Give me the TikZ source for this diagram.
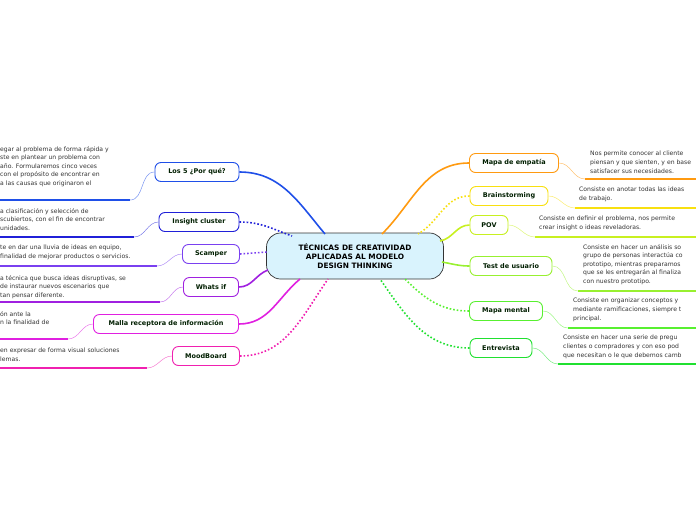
\documentclass[tikz,border=0pt]{standalone}
\usepackage{fontspec}
\setmainfont{DejaVu Sans}
\begin{document}
\begin{tikzpicture}[x=1pt,y=-1pt,
 lbl/.style={draw=#1,line width=0.9pt,rounded corners=6pt,fill=white,font=\fontsize{6.5}{7}\selectfont\bfseries,text=black!70!green!40!black,minimum height=19pt,inner sep=0pt},
 dsc/.style={font=\fontsize{6.1}{8.6}\selectfont,text=black!80,align=left,inner sep=0pt},
 ul/.style={draw=#1,line width=1.2pt},
 lk/.style={draw=#1!60,line width=0.5pt},
 cn/.style={draw=#1,line width=1.6pt},
 cnd/.style={draw=#1,line width=1.6pt,dotted}]
\useasboundingbox (0,0) rectangle (696,520);
\clip (0,0) rectangle (696,520);
\definecolor{c1}{HTML}{1F4FE8}\definecolor{c2}{HTML}{2020D8}\definecolor{c3}{HTML}{7A40F0}
\definecolor{c4}{HTML}{A020E0}\definecolor{c5}{HTML}{E020E0}\definecolor{c6}{HTML}{F020B0}
\definecolor{r1}{HTML}{FF9A10}\definecolor{r2}{HTML}{F8E010}\definecolor{r3}{HTML}{C8F020}
\definecolor{r4}{HTML}{98F030}\definecolor{r5}{HTML}{58F030}\definecolor{r6}{HTML}{20E030}
% center
\node[draw=black!80,line width=0.7pt,fill=cyan!15,rounded corners=14pt,minimum width=177pt,minimum height=46pt,align=center,font=\fontsize{7.4}{9}\selectfont\bfseries] (c) at (355,256) {TÉCNICAS DE CREATIVIDAD\\APLICADAS AL MODELO\\DESIGN THINKING};
% left nodes
\node[lbl=c1,minimum width=84pt] (l1) at (197,172) {Los 5 ¿Por qué?};
\node[lbl=c2,minimum width=80pt] (l2) at (199,222) {Insight cluster};
\node[lbl=c3,minimum width=57pt] (l3) at (211,254) {Scamper};
\node[lbl=c4,minimum width=55pt] (l4) at (211,287) {Whats if};
\node[lbl=c5,minimum width=145pt] (l5) at (166,324) {Malla receptora de información};
\node[lbl=c6,minimum width=67pt] (l6) at (206,356) {MoodBoard};
% right nodes
\node[lbl=r1,minimum width=89pt] (r1) at (514,163) {Mapa de empatía};
\node[lbl=r2,minimum width=78pt] (r2) at (509,196) {Brainstorming};
\node[lbl=r3,minimum width=38pt] (r3) at (489,225) {POV};
\node[lbl=r4,minimum width=82pt] (r4) at (511,266) {Test de usuario};
\node[lbl=r5,minimum width=73pt] (r5) at (506,311) {Mapa mental};
\node[lbl=r6,minimum width=62pt] (r6) at (501,348) {Entrevista};
% center connectors
\draw[cn=c1] (l1.east) to[out=0,in=130] (325,234);
\draw[cnd=c2] (l2.east) to[out=0,in=160] (292,236);
\draw[cnd=c3] (l3.east) -- (267,252);
\draw[cn=c4] (l4.east) to[out=0,in=200] (268,270);
\draw[cn=c5] (l5.east) to[out=0,in=220] (300,279);
\draw[cnd=c6] (l6.east) to[out=0,in=235] (328,279);
\draw[cn=r1] (r1.west) to[out=180,in=45] (382,234);
\draw[cnd=r2] (r2.west) to[out=180,in=30] (418,234);
\draw[cn=r3] (r3.west) to[out=180,in=10] (440,241);
\draw[cn=r4] (r4.west) to[out=180,in=-10] (442,262);
\draw[cnd=r5] (r5.west) to[out=180,in=-45] (405,279);
\draw[cnd=r6] (r6.west) to[out=180,in=-55] (380,279);
% left descriptions
\node[dsc,anchor=north west] (d1) at (0,146) {egar al problema de forma rápida y\\ste en plantear un problema con\\año. Formularemos cinco veces\\con el propósito de encontrar en\\a las causas que originaron el};
\coordinate (u1) at (130,200); \draw[ul=c1] (0,200) -- (u1); \draw[lk=c1] (u1) to[out=0,in=180] (l1.west);
\node[dsc,anchor=north west] (d2) at (0,208) {a clasificación y selección de\\scubiertos, con el fin de encontrar\\unidades.};
\coordinate (u2) at (134,237); \draw[ul=c2] (0,237) -- (u2); \draw[lk=c2] (u2) to[out=0,in=180] (l2.west);
\node[dsc,anchor=north west] (d3) at (0,245) {te en dar una lluvia de ideas en equipo,\\finalidad de mejorar productos o servicios.};
\coordinate (u3) at (157,266); \draw[ul=c3] (0,266) -- (u3); \draw[lk=c3] (u3) to[out=0,in=180] (l3.west);
\node[dsc,anchor=north west] (d4) at (0,275) {a técnica que busca ideas disruptivas, se\\de instaurar nuevos escenarios que\\tan pensar diferente.};
\coordinate (u4) at (160,302); \draw[ul=c4] (0,302) -- (u4); \draw[lk=c4] (u4) to[out=0,in=180] (l4.west);
\node[dsc,anchor=north west] (d5) at (0,311) {ón ante la\\n la finalidad de};
\coordinate (u5) at (68,339); \draw[ul=c5] (0,339) -- (u5); \draw[lk=c5] (u5) to[out=0,in=180] (l5.west);
\node[dsc,anchor=north west] (d6) at (0,348) {en expresar de forma visual soluciones\\lemas.};
\coordinate (u6) at (147,368); \draw[ul=c6] (0,368) -- (u6); \draw[lk=c6] (u6) to[out=0,in=180] (l6.west);
% right descriptions
\node[dsc,anchor=north west] (e1) at (590,151) {Nos permite conocer al cliente\\piensan y que sienten, y en base\\satisfacer sus necesidades.};
\coordinate (v1) at (585,179); \draw[ul=r1] (v1) -- (696,179); \draw[lk=r1] (r1.east) to[out=0,in=180] (v1);
\node[dsc,anchor=north west] (e2) at (579,187) {Consiste en anotar todas las ideas\\de trabajo.};
\coordinate (v2) at (575,208); \draw[ul=r2] (v2) -- (696,208); \draw[lk=r2] (r2.east) to[out=0,in=180] (v2);
\node[dsc,anchor=north west] (e3) at (539,216) {Consiste en definir el problema, nos permite\\crear insight o ideas reveladoras.};
\coordinate (v3) at (535,237); \draw[ul=r3] (v3) -- (696,237); \draw[lk=r3] (r3.east) to[out=0,in=180] (v3);
\node[dsc,anchor=north west] (e4) at (583,244) {Consiste en hacer un análisis so\\grupo de personas interactúa co\\prototipo, mientras preparamos\\que se les entregarán al finaliza\\con nuestro prototipo.};
\coordinate (v4) at (578,291); \draw[ul=r4] (v4) -- (696,291); \draw[lk=r4] (r4.east) to[out=0,in=180] (v4);
\node[dsc,anchor=north west] (e5) at (573,298) {Consiste en organizar conceptos y\\mediante ramificaciones, siempre t\\principal.};
\coordinate (v5) at (568,328); \draw[ul=r5] (v5) -- (696,328); \draw[lk=r5] (r5.east) to[out=0,in=180] (v5);
\node[dsc,anchor=north west] (e6) at (563,335) {Consiste en hacer una serie de pregu\\clientes o compradores y con eso pod\\que necesitan o le que debemos camb};
\coordinate (v6) at (558,364); \draw[ul=r6] (v6) -- (696,364); \draw[lk=r6] (r6.east) to[out=0,in=180] (v6);
\end{tikzpicture}
\end{document}
